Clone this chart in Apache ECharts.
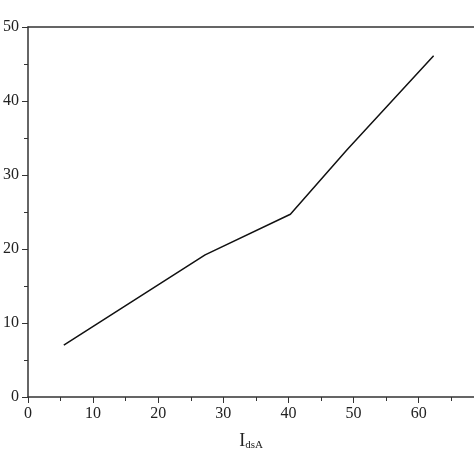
<!DOCTYPE html><html><head><meta charset="utf-8"><script src="https://cdn.jsdelivr.net/npm/echarts@6/dist/echarts.min.js"></script></head><body style="margin:0"><div id="c" style="width:474px;height:474px"></div><script>
const xValues=[5.5,27.2,40.3,49,62.3];
const yValues=[7.0,19.2,24.7,33.4,46.1];
const yTickLabels=['0','10','20','30','40','50'];
const ch=echarts.init(document.getElementById('c'));
const f='Liberation Serif';
ch.setOption({animation:false,
grid:{left:24,right:0,top:27,bottom:77},
xAxis:[{type:'value',min:0,max:68.5,interval:10,name:'{a|I}{b|dsA}',nameLocation:'middle',nameGap:35,
nameTextStyle:{rich:{a:{fontFamily:f,fontSize:18,color:'#222'},b:{fontFamily:f,fontSize:11,color:'#222',verticalAlign:'bottom',padding:[8,0,0,0]}}},
axisLine:{lineStyle:{color:'#333',width:1.5}},axisTick:{inside:false,length:6,lineStyle:{color:'#333'}},minorTick:{show:true,splitNumber:2,length:4,lineStyle:{color:'#333'}},
splitLine:{show:false},axisLabel:{fontFamily:f,fontSize:16,color:'#222',margin:9,showMaxLabel:false}},
{type:'value',position:'top',min:0,max:68.5,axisLine:{show:true,lineStyle:{color:'#333',width:1.5}},axisTick:{show:false},axisLabel:{show:false},splitLine:{show:false}}],
yAxis:{type:'value',min:0,max:50,interval:10,axisLine:{show:true,lineStyle:{color:'#333',width:1.5}},axisTick:{show:true,length:6,lineStyle:{color:'#333'}},
minorTick:{show:true,splitNumber:2,length:4,lineStyle:{color:'#333'}},splitLine:{show:false},
axisLabel:{fontFamily:f,fontSize:16,color:'#222',margin:9,formatter:v=>yTickLabels[v/10]}},
series:[{type:'line',data:xValues.map((x,i)=>[x,yValues[i]]),showSymbol:false,lineStyle:{color:'#111',width:1.5}}]});
</script></body></html>
